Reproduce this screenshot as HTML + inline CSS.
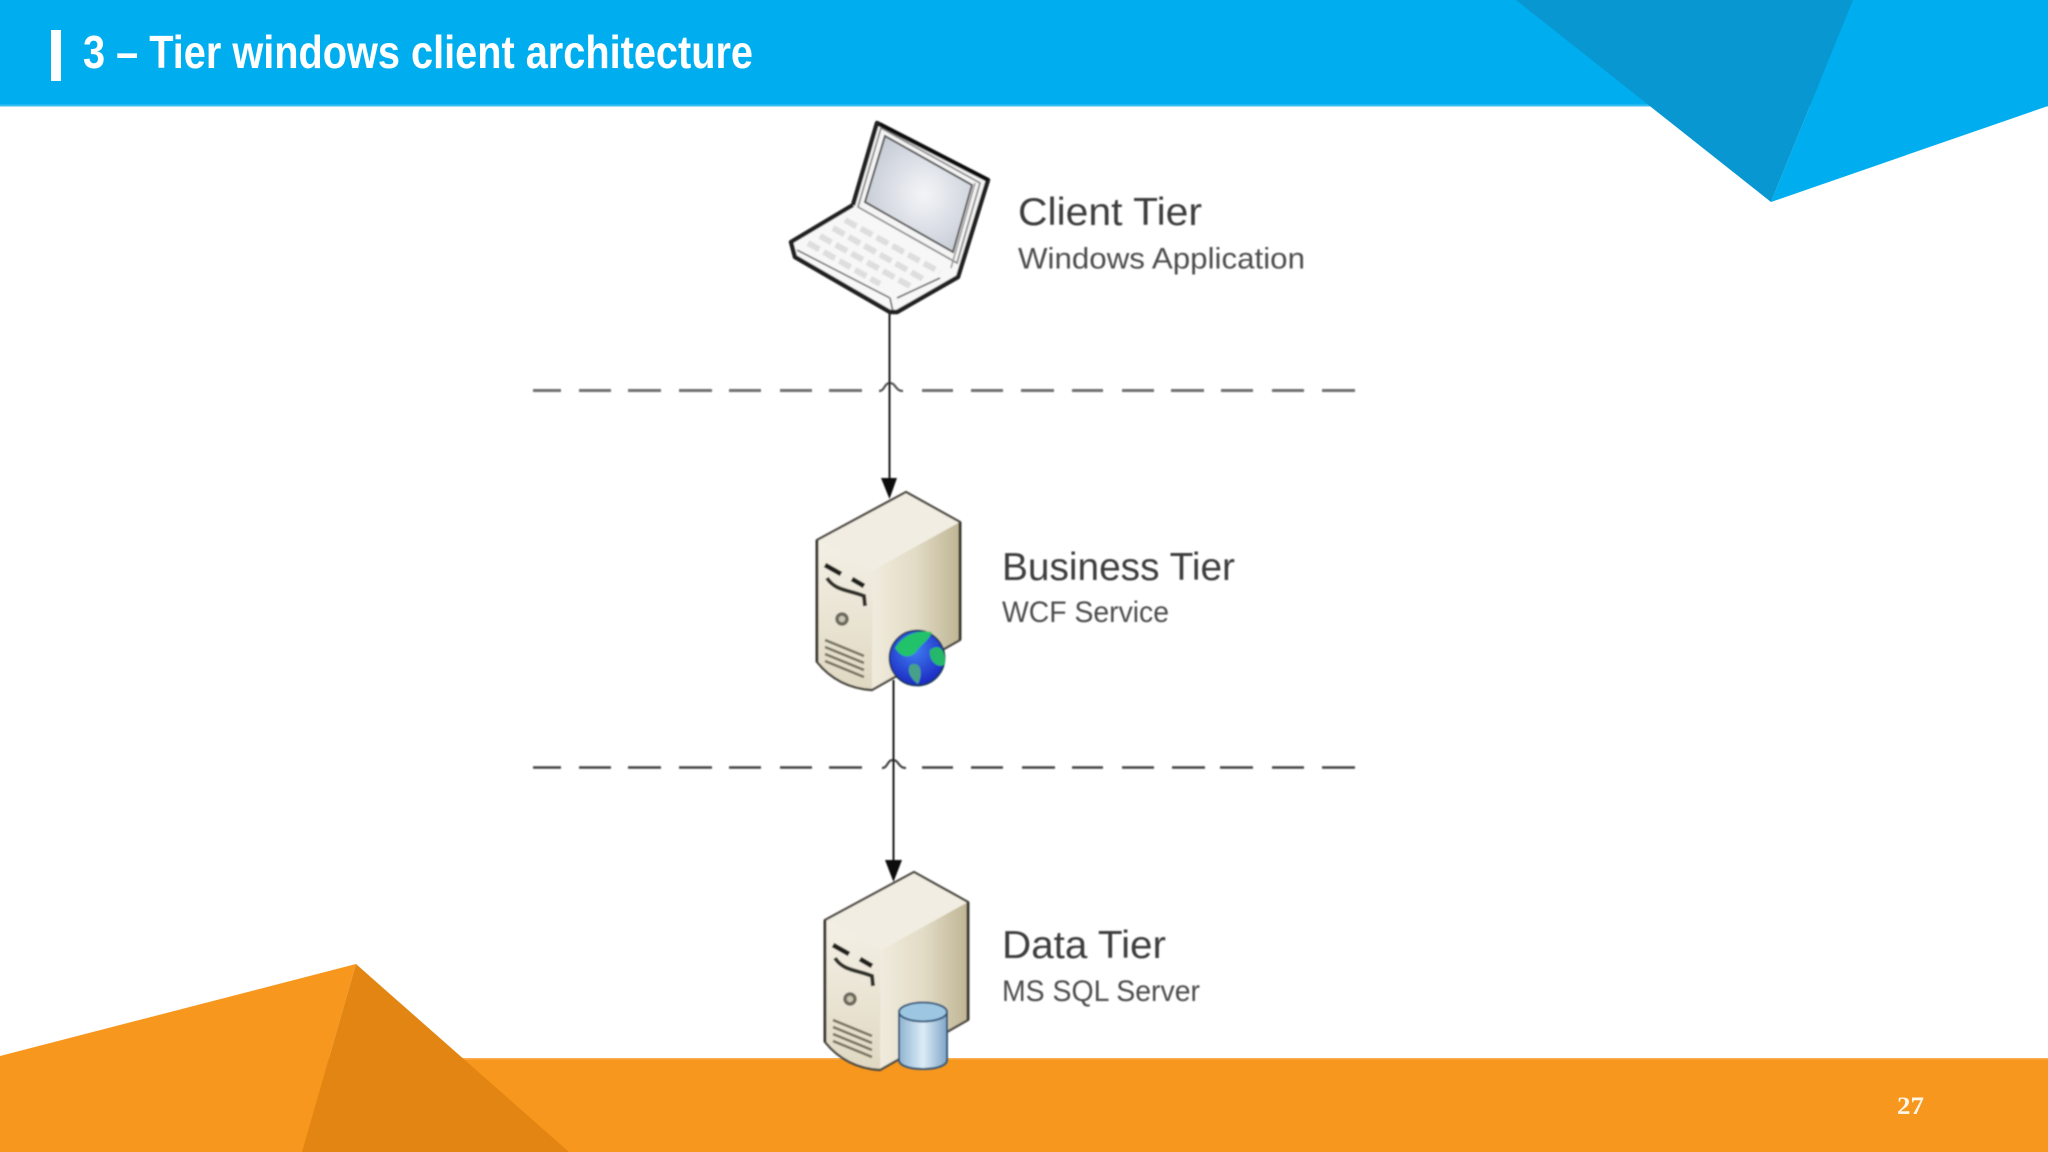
<!DOCTYPE html>
<html lang="en"><head><meta charset="utf-8"><title>3-Tier windows client architecture</title>
<style>html,body{margin:0;padding:0;background:#fff;width:2048px;height:1152px;overflow:hidden}svg{display:block}</style></head>
<body>
<svg xmlns="http://www.w3.org/2000/svg" width="2048" height="1152" viewBox="0 0 2048 1152">
<defs>
<linearGradient id="side" x1="0" x2="1" y1="0" y2="0"><stop offset="0" stop-color="#F0EBDD"/><stop offset=".5" stop-color="#E2DBC5"/><stop offset="1" stop-color="#BFB594"/></linearGradient>
<linearGradient id="front" x1="0" x2="0" y1="0" y2="1"><stop offset="0" stop-color="#F4F0E6"/><stop offset="1" stop-color="#DFD8C2"/></linearGradient>
<radialGradient id="glass" cx=".55" cy=".5" r=".6"><stop offset="0" stop-color="#F3F5F8"/><stop offset="1" stop-color="#C5CAD4"/></radialGradient>
<radialGradient id="globe" cx=".45" cy=".35" r=".7"><stop offset="0" stop-color="#3F7FF0"/><stop offset="1" stop-color="#1A22C0"/></radialGradient>
<linearGradient id="cyl" x1="0" x2="1" y1="0" y2="0"><stop offset="0" stop-color="#8FB4D2"/><stop offset=".5" stop-color="#DCECF6"/><stop offset="1" stop-color="#7FA6C6"/></linearGradient>
<filter id="soft" x="-5%" y="-5%" width="110%" height="110%"><feGaussianBlur stdDeviation="0.9"/></filter>
<g id="server">
<polygon points="906,492 960,522 873,570 817,540" fill="#F1EDE2"/>
<path d="M873,570 L960,522 L960,640 L872,690 Z" fill="url(#side)"/>
<path d="M817,540 L873,570 L872,690 Q838,688 817,662 Z" fill="url(#front)"/>
<path d="M817,540 L906,492 L960,522 L960,640 L872,690 Q838,688 817,662 Z" fill="none" stroke="#4f4c44" stroke-width="2.400" stroke-linejoin="round"/>
<path d="M817,540 V662 M960,522 V640" stroke="#3c3a33" stroke-width="3" fill="none"/>
<path d="M825,565 L841,574 M852,579 L864,586" stroke="#23211d" stroke-width="5" fill="none"/>
<path d="M827,578 C835,591 850,590 864,596 L865,606" stroke="#33312b" stroke-width="4" fill="none"/>
<circle cx="842" cy="619" r="5" fill="#C8C4B0" stroke="#6d6a5e" stroke-width="3.500"/>
<path d="M825,640 L864,656 M825,647 L864,663 M825,654 L864,670 M825,661 L864,677" stroke="#7a7664" stroke-width="2.600" fill="none"/>
</g>
</defs>

<rect x="0" y="0" width="2048" height="106" fill="#00AEEF"/>
<rect x="0" y="104.500" width="2048" height="2" fill="#3BBEF1"/>
<polygon points="1771,202 2048,106 2048,0 1853,0" fill="#00AEEF"/>
<polygon points="1516,0 1853,0 1771,202" fill="#0897D1"/>
<rect x="51" y="30" width="10" height="51" fill="#fff"/>
<text x="83" y="68" font-family="Liberation Sans, sans-serif" font-weight="700" font-size="46" fill="#fff" textLength="670" lengthAdjust="spacingAndGlyphs">3 – Tier windows client architecture</text>

<rect x="0" y="1058" width="2048" height="94" fill="#F8971D"/>
<rect x="0" y="1058" width="2048" height="1.500" fill="#FAAE50"/>
<polygon points="0,1056 356,964 302,1152 0,1152" fill="#F8971D"/>
<polygon points="356,964 569,1152 302,1152" fill="#E38512"/>
<text x="1897" y="1114" font-family="Liberation Serif, serif" font-weight="700" font-size="25" fill="#FFF6E8" textLength="27" lengthAdjust="spacingAndGlyphs">27</text>

<g filter="url(#soft)">
<!-- tier separators -->
<g fill="none">
<path d="M533,390.500 H561 M579,390.500 H611 M628,390.500 H661 M679,390.500 H712 M729,390.500 H761 M780,390.500 H812 M829,390.500 H862 M922,390.500 H953 M971,390.500 H1003 M1021,390.500 H1054 M1072,390.500 H1103 M1122,390.500 H1154 M1171,390.500 H1204 M1221,390.500 H1253 M1272,390.500 H1304 M1322,390.500 H1355" stroke="#6f6f6f" stroke-width="3"/>
<path d="M533,767.500 H561 M579,767.500 H611 M628,767.500 H661 M679,767.500 H712 M729,767.500 H761 M780,767.500 H812 M829,767.500 H862 M922,767.500 H953 M971,767.500 H1003 M1022,767.500 H1055 M1072,767.500 H1103 M1122,767.500 H1154 M1172,767.500 H1205 M1220,767.500 H1253 M1272,767.500 H1304 M1322,767.500 H1355" stroke="#444" stroke-width="2.400"/>
<path d="M879,391 C885,391 884,383 890,383 C896,383 895,391 903,391" stroke="#555" stroke-width="2.200"/>
<path d="M882,768 C888,768 887,760 893,760 C899,760 898,768 906,768" stroke="#444" stroke-width="2.200"/>
</g>
<!-- connectors -->
<path d="M889.500,312 V480" stroke="#1a1a1a" stroke-width="2"/>
<polygon points="881,478 897,478 889.500,499" fill="#111"/>
<path d="M893.500,680 V862" stroke="#1a1a1a" stroke-width="2"/>
<polygon points="885,860 902,860 893.500,882" fill="#111"/>

<!-- laptop -->
<polygon points="879,123 988,180 958,277 853,205" fill="#F4F4F4"/>
<polygon points="853,205 791,242 795,255 890,312 897,312 958,277 960,263" fill="#F7F7F7"/>
<polygon points="885,136 972,185 953,252 865,202" fill="url(#glass)" stroke="#555" stroke-width="2"/>
<path d="M881,128 L980,183 L957,263 L858,207 Z" fill="none" stroke="#8d8d8d" stroke-width="1.800"/>
<path d="M975,183 L951,268" stroke="#999" stroke-width="1.600" fill="none"/>
<g stroke="#DEDEDE" stroke-width="6" stroke-dasharray="13 5" fill="none">
<path d="M845,220 L940,272"/><path d="M833,228 L925,280"/><path d="M820,236 L910,286"/><path d="M808,243 L880,284"/>
</g>
<path d="M797,250 L890,298 M897,298 L940,278 M890,298 L893,312" stroke="#777" stroke-width="1.800" fill="none"/>
<path d="M853,205 L877,123 L988,180 L958,277 L897,312 L890,312 L795,257 L791,242 L853,205" fill="none" stroke="#202020" stroke-width="4.500" stroke-linejoin="round"/>
<path d="M880,124 L988,180" stroke="#111" stroke-width="3.500" fill="none"/>

<!-- business server -->
<use href="#server"/>
<circle cx="917" cy="658" r="27.500" fill="url(#globe)" stroke="#1d3a5a" stroke-width="1.800"/>
<path d="M895,648 C903,634 918,630 932,632 C928,642 920,645 916,652 C908,660 900,656 895,648 Z" fill="#22C26A"/>
<path d="M930,650 C940,642 946,652 945,664 C938,670 928,660 930,650 Z" fill="#28B86A"/>
<path d="M910,665 C920,660 924,672 918,684 C912,680 906,672 910,665 Z" fill="#46A08A"/>

<!-- data server -->
<use href="#server" x="8" y="380"/>
<path d="M899,1012 V1060 C899,1072 947,1072 947,1060 V1012 Z" fill="url(#cyl)" stroke="#35597d" stroke-width="2"/>
<ellipse cx="923" cy="1012" rx="24" ry="9.500" fill="#9CC6E2" stroke="#35597d" stroke-width="2"/>

<!-- labels -->
<g font-family="Liberation Sans, sans-serif">
<text x="1018" y="225" font-size="39" fill="#3c3c3c" textLength="184" lengthAdjust="spacingAndGlyphs">Client Tier</text>
<text x="1018" y="268.500" font-size="30" fill="#4d4d4d" textLength="287" lengthAdjust="spacingAndGlyphs">Windows Application</text>
<text x="1002" y="580" font-size="39" fill="#3c3c3c" textLength="233" lengthAdjust="spacingAndGlyphs">Business Tier</text>
<text x="1002" y="622" font-size="30" fill="#4d4d4d" textLength="167" lengthAdjust="spacingAndGlyphs">WCF Service</text>
<text x="1002" y="958" font-size="39" fill="#3c3c3c" textLength="164" lengthAdjust="spacingAndGlyphs">Data Tier</text>
<text x="1002" y="1001" font-size="30" fill="#4d4d4d" textLength="198" lengthAdjust="spacingAndGlyphs">MS SQL Server</text>
</g>
</g>
</svg>
</body></html>
